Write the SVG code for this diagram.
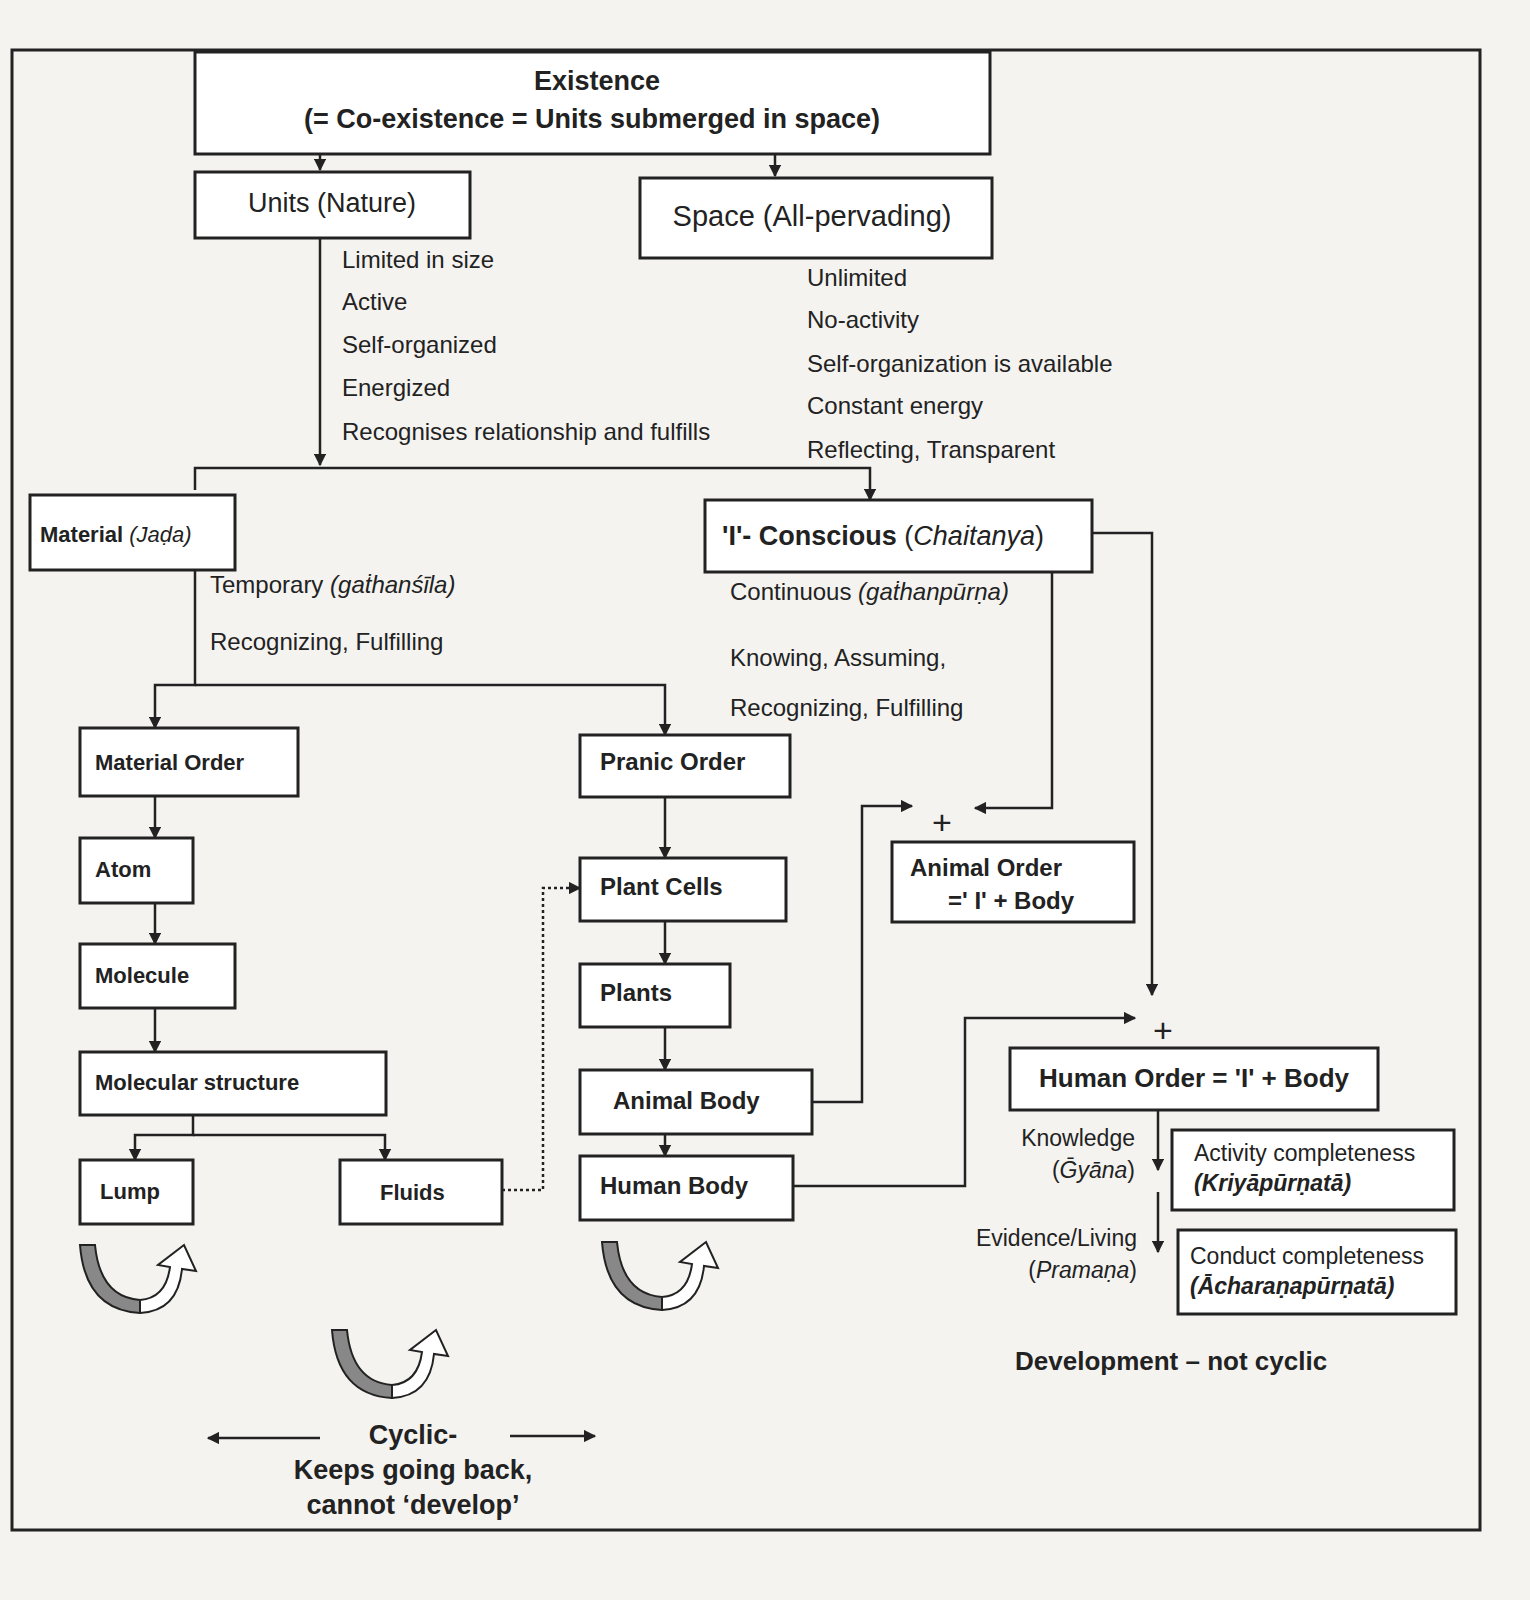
<svg xmlns="http://www.w3.org/2000/svg" width="1530" height="1600" viewBox="0 0 1530 1600">
<style>
.b{fill:#fff;stroke:#222;stroke-width:3}
.t{font-family:"Liberation Sans",Arial,sans-serif;font-size:24px;fill:#222}
.bt{font-family:"Liberation Sans",Arial,sans-serif;font-size:24px;font-weight:bold;fill:#222}
.l{fill:none;stroke:#222;stroke-width:2.5}
</style>
<defs>
<marker id="a" viewBox="0 0 10 10" refX="9" refY="5" markerWidth="5" markerHeight="5" orient="auto"><path d="M0,0L10,5L0,10Z" fill="#222"/></marker>
<g id="cyc">
<path d="M0,0 Q5,65 60,68 L60,55 Q20,52 15,0 Z" fill="#888" stroke="#222" stroke-width="2"/>
<path d="M60,68 Q98,66 102,24 L116,26 L104,0 L78,20 L90,22 Q86,53 60,55 Z" fill="#fff" stroke="#222" stroke-width="2"/>
</g>
</defs>
<rect width="1530" height="1600" fill="#f4f3f0"/>
<rect x="12" y="50" width="1468" height="1480" fill="none" stroke="#222" stroke-width="3"/>
<g id="connectors" marker-end="url(#a)">
<path class="l" d="M320,154V170"/>
<path class="l" d="M775,154V176"/>
<path class="l" d="M320,238V465"/>
<path class="l" d="M195,490V468H870V500"/>
<path class="l" d="M195,570V685H155V728"/>
<path class="l" d="M195,685H665V735"/>
<path class="l" d="M155,796V838"/>
<path class="l" d="M155,903V944"/>
<path class="l" d="M155,1008V1052"/>
<path class="l" d="M193,1115V1135H135V1160"/>
<path class="l" d="M193,1135H385V1160"/>
<path class="l" d="M502,1190H543V888H580" stroke-dasharray="3,3"/>
<path class="l" d="M665,797V858"/>
<path class="l" d="M665,921V964"/>
<path class="l" d="M665,1027V1070"/>
<path class="l" d="M665,1134V1156"/>
<path class="l" d="M812,1102H862V806H912"/>
<path class="l" d="M1052,572V808H975"/>
<path class="l" d="M1092,533H1152V995"/>
<path class="l" d="M793,1186H965V1018H1135"/>
<path class="l" d="M1158,1110V1170"/>
<path class="l" d="M1158,1192V1252"/>
<path class="l" d="M320,1438H208"/>
<path class="l" d="M510,1436H595"/>
</g>
<g id="existence"><rect class="b" x="195" y="52" width="795" height="102"/><text class="bt" x="597" y="90" text-anchor="middle" style="font-size:27px">Existence</text><text class="bt" x="592" y="128" text-anchor="middle" style="font-size:27px">(= Co-existence = Units submerged in space)</text></g>
<g id="units"><rect class="b" x="195" y="172" width="275" height="66"/><text class="t" x="332" y="212" text-anchor="middle" style="font-size:27px">Units (Nature)</text></g>
<g id="space"><rect class="b" x="640" y="178" width="352" height="80"/><text class="t" x="812" y="226" text-anchor="middle" style="font-size:29px">Space (All-pervading)</text></g>
<g id="unitattrs" class="t"><text x="342" y="268">Limited in size</text><text x="342" y="310">Active</text><text x="342" y="353">Self-organized</text><text x="342" y="396">Energized</text><text x="342" y="440">Recognises relationship and fulfills</text></g>
<g id="spaceattrs" class="t"><text x="807" y="286">Unlimited</text><text x="807" y="328">No-activity</text><text x="807" y="372">Self-organization is available</text><text x="807" y="414">Constant energy</text><text x="807" y="458">Reflecting, Transparent</text></g>
<g id="material"><rect class="b" x="30" y="495" width="205" height="75"/><text class="bt" x="40" y="542" style="font-size:22px">Material <tspan font-style="italic" font-weight="normal">(Jaḍa)</tspan></text></g>
<g id="conscious"><rect class="b" x="705" y="500" width="387" height="72"/><text class="bt" x="722" y="545" style="font-size:27px">'I'- Conscious <tspan font-weight="normal">(<tspan font-style="italic">Chaitanya</tspan>)</tspan></text></g>
<g class="t"><text x="210" y="593">Temporary <tspan font-style="italic">(gaṫhanśīla)</tspan></text><text x="210" y="650">Recognizing, Fulfilling</text>
<text x="730" y="600">Continuous <tspan font-style="italic">(gaṫhanpūrṇa)</tspan></text><text x="730" y="666">Knowing, Assuming,</text><text x="730" y="716">Recognizing, Fulfilling</text></g>
<g id="materialorder"><rect class="b" x="80" y="728" width="218" height="68"/><text class="bt" x="95" y="770" style="font-size:22px">Material Order</text></g>
<g id="atom"><rect class="b" x="80" y="838" width="113" height="65"/><text class="bt" x="95" y="877" style="font-size:22px">Atom</text></g>
<g id="molecule"><rect class="b" x="80" y="944" width="155" height="64"/><text class="bt" x="95" y="983" style="font-size:22px">Molecule</text></g>
<g id="molstruct"><rect class="b" x="80" y="1052" width="306" height="63"/><text class="bt" x="95" y="1090" style="font-size:22px">Molecular structure</text></g>
<g id="lump"><rect class="b" x="80" y="1160" width="113" height="64"/><text class="bt" x="100" y="1199" style="font-size:22px">Lump</text></g>
<g id="fluids"><rect class="b" x="340" y="1160" width="162" height="64"/><text class="bt" x="380" y="1200" style="font-size:22px">Fluids</text></g>
<g id="pranic"><rect class="b" x="580" y="735" width="210" height="62"/><text class="bt" x="600" y="770">Pranic Order</text></g>
<g id="plantcells"><rect class="b" x="580" y="858" width="206" height="63"/><text class="bt" x="600" y="895">Plant Cells</text></g>
<g id="plants"><rect class="b" x="580" y="964" width="150" height="63"/><text class="bt" x="600" y="1001">Plants</text></g>
<g id="animalbody"><rect class="b" x="580" y="1070" width="232" height="64"/><text class="bt" x="613" y="1109">Animal Body</text></g>
<g id="humanbody"><rect class="b" x="580" y="1156" width="213" height="64"/><text class="bt" x="600" y="1194">Human Body</text></g>
<text class="t" x="942" y="834" text-anchor="middle" style="font-size:34px">+</text>
<g id="animalorder"><rect class="b" x="892" y="842" width="242" height="80"/><text class="bt" x="910" y="876">Animal Order</text><text class="bt" x="948" y="909">=' I' + Body</text></g>
<text class="t" x="1163" y="1042" text-anchor="middle" style="font-size:34px">+</text>
<g id="humanorder"><rect class="b" x="1010" y="1048" width="368" height="62"/><text class="bt" x="1194" y="1087" text-anchor="middle" style="font-size:26px">Human Order = 'I' + Body</text></g>
<g class="t" text-anchor="end" style="font-size:23px"><text x="1135" y="1146">Knowledge</text><text x="1135" y="1178">(<tspan font-style="italic">Ḡyāna</tspan>)</text><text x="1137" y="1246">Evidence/Living</text><text x="1137" y="1278">(<tspan font-style="italic">Pramaṇa</tspan>)</text></g>
<g id="activity"><rect class="b" x="1172" y="1130" width="282" height="80"/><text class="t" x="1194" y="1161" style="font-size:23px">Activity completeness</text><text class="bt" x="1194" y="1191" font-style="italic" style="font-size:23px">(Kriyāpūrṇatā)</text></g>
<g id="conduct"><rect class="b" x="1178" y="1230" width="278" height="84"/><text class="t" x="1190" y="1264" style="font-size:23px">Conduct completeness</text><text class="bt" x="1190" y="1294" font-style="italic" style="font-size:23px">(Ācharaṇapūrṇatā)</text></g>
<text class="bt" x="1015" y="1370" style="font-size:26px">Development – not cyclic</text>
<use href="#cyc" transform="translate(80,1245)"/>
<use href="#cyc" transform="translate(602,1242)"/>
<use href="#cyc" transform="translate(332,1330)"/>
<g class="bt" text-anchor="middle" style="font-size:27px"><text x="413" y="1444">Cyclic-</text><text x="413" y="1479">Keeps going back,</text><text x="413" y="1514">cannot ‘develop’</text></g>
</svg>
